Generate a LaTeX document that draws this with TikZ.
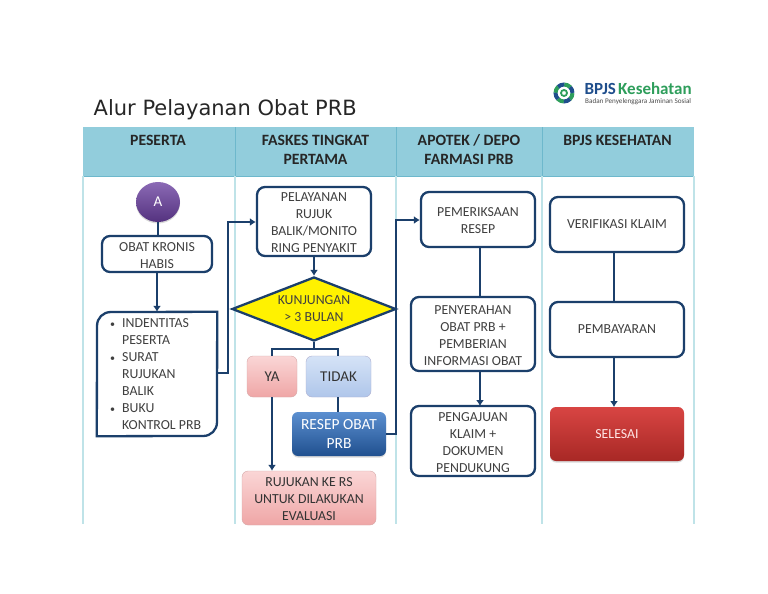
\documentclass[tikz,border=0pt]{standalone}
\usepackage{fontspec}
\setmainfont{Carlito}
\newfontfamily\titlefont{DejaVu Sans}
\usetikzlibrary{arrows.meta,shapes.geometric,shadows}

\definecolor{headfill}{HTML}{92CDDC}
\definecolor{headline}{HTML}{6DB8CC}
\definecolor{bodyline}{HTML}{BFE3E8}
\definecolor{flowline}{HTML}{1B3F6B}
\definecolor{textgray}{HTML}{404040}
\definecolor{logoblue}{HTML}{1F4E8C}
\definecolor{logogreen}{HTML}{2E9E5B}
\definecolor{pinktop}{HTML}{FAD6D6}
\definecolor{pinkbot}{HTML}{EFA6A6}
\definecolor{paletop}{HTML}{D5E3F7}
\definecolor{palebot}{HTML}{AFC6EA}
\definecolor{bluetop}{HTML}{5B8FD0}
\definecolor{bluebot}{HTML}{20508F}
\definecolor{redtop}{HTML}{D84543}
\definecolor{redbot}{HTML}{A82825}
\definecolor{purpletop}{HTML}{8B6AB5}
\definecolor{purplebot}{HTML}{54327F}

\newcommand{\itemdot}{\makebox[12pt][l]{\fontsize{10}{10}\selectfont\textbullet}}
\newcommand{\itemgap}{\makebox[12pt][l]{}}
\newcommand{\liftline}{\rule{0pt}{12pt}}

\begin{document}
\begin{tikzpicture}[
    x=1pt, y=-1pt,
    every node/.style={font=\fontsize{13.8}{17}\selectfont, text=textgray, align=center, inner sep=0pt},
    header/.style={font=\fontsize{15.7}{19}\selectfont\bfseries, text=black!85, anchor=north},
    step box/.style={draw=flowline, line width=2.3pt, rounded corners=8pt, fill=white},
    soft red/.style={rounded corners=6pt, draw=red!35!gray!50, top color=pinktop, bottom color=pinkbot, text=black!80},
    soft shadow/.style={drop shadow={opacity=0.3,shadow xshift=0pt,shadow yshift=-1.5pt}},
    arrow/.style={-{Latex[length=6pt,width=8pt]}, draw=flowline, line width=2.3pt},
    link/.style={draw=flowline, line width=2.3pt}
]
\useasboundingbox (0,0) rectangle (768,594);
\fill[white] (0,0) rectangle (768,594);

% Title and logo
\node[font=\fontsize{21}{24}\selectfont\titlefont, text=black!85, anchor=base west] (title) at (93.5,115) {Alur Pelayanan Obat PRB};

\draw[logogreen, line width=4pt, dash pattern=on 6.67pt off 6.67pt] (564,93) circle (8.5);
\draw[logoblue, line width=4pt, dash pattern=on 6.67pt off 6.67pt, dash phase=6.67pt] (564,93) circle (8.5);
\draw[logogreen, line width=1.8pt] (564,93) circle (3);
\node[anchor=base west, font=\fontsize{17}{18}\selectfont\bfseries, text=logoblue] (logoa) at (584.5,94.5) {BPJS};
\node[anchor=base west, font=\fontsize{17}{18}\selectfont\bfseries, text=logogreen] (logob) at (618,94.5) {Kesehatan};
\node[anchor=base west, font=\fontsize{7.15}{8}\selectfont, text=black!70] (logoc) at (585,103) {Badan Penyelenggara Jaminan Sosial};

% Table
\fill[headfill] (83,127) rectangle (694,176);
\draw[headline, line width=1pt] (83,176) -- (694,176);
\foreach \x in {235,396,542} {
    \draw[headline, line width=1pt] (\x,127) -- (\x,176);
    \draw[bodyline, line width=1.5pt] (\x,176) -- (\x,524);
}
\draw[bodyline, line width=1.5pt] (83,176) -- (83,524);
\draw[bodyline, line width=1.5pt] (694,176) -- (694,524);

\node[header] (peserta) at (158,135.5) {PESERTA};
\node[header] (faskes) at (315.5,135.5) {FASKES TINGKAT\\PERTAMA};
\node[header] (apotek) at (469,134.5) {APOTEK / DEPO\\FARMASI PRB};
\node[header] (bpjs) at (617.5,135.5) {BPJS KESEHATAN};

% Peserta
\node[ellipse, minimum width=44pt, minimum height=40pt, top color=purpletop, bottom color=purplebot, soft shadow, text=white, font=\fontsize{15}{17}\selectfont] (nodeA) at (158,202) {A};
\node[step box, minimum width=110pt, minimum height=36pt] (obat) at (157,254) {\liftline OBAT KRONIS\\HABIS};
\node[minimum width=120pt, minimum height=124pt] (ident) at (157,374) {};
\draw[link, fill=white] (ident.north east) -- (217,422) .. controls (217,430) and (211,436) .. (203,436) -- (ident.south west) -- (97,326) .. controls (97,318) and (103,312) .. (111,312) -- cycle;
\node[anchor=north west, align=left] (identtext) at (110,318.5) {\itemdot INDENTITAS\\\itemgap PESERTA\\\itemdot SURAT\\\itemgap RUJUKAN\\\itemgap BALIK\\\itemdot BUKU\\\itemgap KONTROL PRB};

% Faskes
\node[step box, minimum width=114pt, minimum height=69pt] (layanan) at (314,221.5) {\liftline PELAYANAN\\RUJUK\\BALIK/MONITO\\RING PENYAKIT};
\node[diamond, aspect=2.56, minimum width=164pt, minimum height=64pt, draw=flowline, line width=2.3pt, fill=yellow] (kunjungan) at (314,309) {KUNJUNGAN\\> 3 BULAN};
\node[soft red, minimum width=50pt, minimum height=41pt, font=\fontsize{15}{17}\selectfont] (ya) at (272,376.5) {YA};
\node[rounded corners=6pt, draw=blue!25!gray!50, top color=paletop, bottom color=palebot, text=black!80, minimum width=65pt, minimum height=41pt, font=\fontsize{15}{17}\selectfont] (tidak) at (338.5,376.5) {TIDAK};
\node[rounded corners=6pt, top color=bluetop, bottom color=bluebot, soft shadow, text=white, minimum width=94pt, minimum height=44pt, font=\fontsize{15.5}{19}\selectfont] (resep) at (339,434) {RESEP OBAT\\PRB};
\node[soft red, minimum width=134pt, minimum height=54pt] (rujukan) at (309,498) {\liftline RUJUKAN KE RS\\UNTUK DILAKUKAN\\EVALUASI};

% Apotek
\node[step box, minimum width=114pt, minimum height=55pt] (periksa) at (478,219.5) {\liftline PEMERIKSAAN\\RESEP};
\node[step box, minimum width=124pt, minimum height=74pt] (serah) at (473,334) {\liftline PENYERAHAN\\OBAT PRB +\\PEMBERIAN\\INFORMASI OBAT};
\node[step box, minimum width=124pt, minimum height=70pt] (klaim) at (473,441) {\liftline PENGAJUAN\\KLAIM +\\DOKUMEN\\PENDUKUNG};

% BPJS
\node[step box, minimum width=134pt, minimum height=55pt] (verif) at (617,224.5) {VERIFIKASI KLAIM};
\node[step box, minimum width=134pt, minimum height=55pt] (bayar) at (617,329.5) {PEMBAYARAN};
\node[rounded corners=6pt, top color=redtop, bottom color=redbot, soft shadow, text=white!90!red, minimum width=134pt, minimum height=54pt] (selesai) at (617,434) {SELESAI};

% Connectors
\draw[link] (nodeA.south) -- (nodeA.south |- obat.north);
\draw[arrow] (obat.south) -- (obat.south |- ident.north);
\draw[arrow] (ident.east |- 0,373) -- (228,373) -- (228,222) -- (layanan.west |- 0,222);
\draw[arrow] (layanan.south) -- (kunjungan.north);
\draw[link] (kunjungan.south) -- (314,349);
\draw[link] (ya.north) -- (272,349) -- (338,349) -- (338,356);
\draw[link] (338,397) -- (338,412);
\draw[arrow] (ya.south) -- (ya.south |- rujukan.north);
\draw[arrow] (resep.east) -- (396,434) -- (396,220) -- (periksa.west |- 0,220);
\draw[link] (480,247) -- (480,297);
\draw[arrow] (480,371) -- (480,406);
\draw[link] (614,252) -- (614,302);
\draw[arrow] (614,357) -- (614,407);
\end{tikzpicture}
\end{document}
